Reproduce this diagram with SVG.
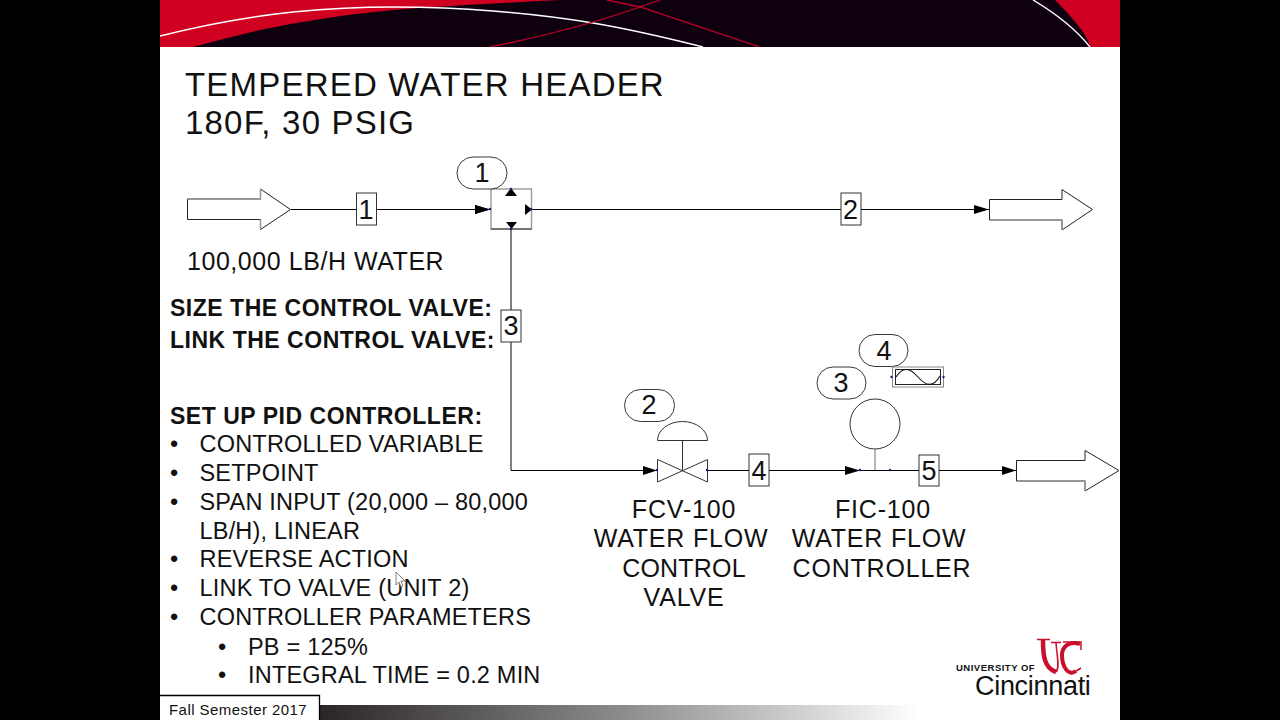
<svg xmlns="http://www.w3.org/2000/svg" width="1280" height="720" viewBox="0 0 1280 720">
<style>
text{font-family:"Liberation Sans",Arial,sans-serif;fill:#111}
.t{font-size:33px;letter-spacing:1.2px}
.b{font-size:23px;font-weight:bold;letter-spacing:.52px}
.l{font-size:23.5px;letter-spacing:.2px}
.c{font-size:25px;text-anchor:middle;letter-spacing:.8px}
.n{font-size:27px;text-anchor:middle}
.ln{fill:none;stroke:#000;stroke-width:1}
.g{fill:#fff;stroke:#222;stroke-width:1}
.gy{fill:none;stroke:#999;stroke-width:1.6}
.box{fill:#fff;stroke:#333;stroke-width:1}
.oval{fill:#fff;stroke:#222;stroke-width:.9}
.ar{fill:#000}
.dot{fill:#33107a}
.ucs{fill:none;stroke:#c8102e}
</style>
<defs>
<linearGradient id="fade" x1="0" x2="1" y1="0" y2="0"><stop offset="0" stop-color="#2a2627"/><stop offset=".5" stop-color="#8c8a8a"/><stop offset="1" stop-color="#fff"/></linearGradient>
<clipPath id="hd"><rect x="160" y="0" width="960" height="47"/></clipPath>
</defs>
<rect width="1280" height="720" fill="#000"/>
<rect x="160" y="0" width="960" height="720" fill="#fff"/>
<g id="banner" clip-path="url(#hd)">
<rect x="160" y="0" width="960" height="47" fill="#0f0010"/>
<path d="M160 0H560Q460 5 393 10Q327 16 260 30Q225 38 193 47H160Z" fill="#d00020"/>
<path d="M1055 0H1120V47H1090Q1088 33 1055 0Z" fill="#d00020"/>
<path d="M160 36Q227 19 293 12Q345 7 393 7Q445 7 493 11Q545 15 593 23Q640 31 703 47" fill="none" stroke="#fff" stroke-width="1.4"/>
<path d="M1033 0Q1070 22 1090 47" fill="none" stroke="#fff" stroke-width="1.4"/>
<path d="M490 47Q545 36 593 22Q620 14 640 7L660 0M607 0L640 7L760 47" fill="none" stroke="#c00028" stroke-width="1.3"/>
</g>
<text class="t" x="185" y="96">TEMPERED WATER HEADER</text>
<text class="t" x="185" y="134">180F, 30 PSIG</text>
<g id="connectors">
<path class="ln" d="M291 209.500H490M532 209.500H990M511 230V470.500H657M707 470.500H850M850 470.500H1016"/>
<path class="ar" d="M475 205l15 4.500-15 4.500zM974 205l15 4.500-15 4.500zM643 466l14 4.500-14 4.500zM845 466l15 4.500-15 4.500zM1002 466l14 4.500-14 4.500z"/>
</g>
<g id="feed-in"><path class="g" d="M187.500 199H260.500V189L290.500 209.500 260.500 229.500V219.500H187.500Z"/><path class="gy" d="M187.500 199H260.500V189"/><path class="gy" d="M260.500 219.500V229"/></g>
<g id="product-out"><path class="g" d="M989.500 199.500H1062V189.500L1092.500 209.500 1062 230V220H989.500Z"/><path class="gy" d="M990 220H1062V230"/></g>
<g id="valve-out"><path class="g" d="M1016.500 460.500H1085V450.500L1119 470.500 1085 491V481H1016.500Z"/><path class="gy" d="M1017 481H1085V491"/></g>
<g id="stream-1"><rect class="box" x="356.500" y="193" width="20" height="32"/><text class="n" x="366" y="219">1</text></g>
<g id="stream-2"><rect class="box" x="841" y="193" width="20" height="32"/><text class="n" x="850.500" y="219">2</text></g>
<g id="stream-3"><rect class="box" x="501" y="310" width="20" height="32"/><text class="n" x="511" y="335">3</text></g>
<g id="stream-4"><rect class="box" x="749" y="454" width="20" height="32"/><text class="n" x="759" y="480">4</text></g>
<g id="stream-5"><rect class="box" x="919" y="455" width="20" height="31"/><text class="n" x="929" y="480">5</text></g>
<g id="splitter">
<rect x="491" y="189" width="40.500" height="40" fill="#fff" stroke="#999" stroke-width="1.4"/>
<path d="M491 229H531.500" stroke="#333" stroke-width="1.200" fill="none"/>
<path class="ar" d="M505 196l6-8 6 8zM506 222h11l-5.500 7zM525 204l7 5.500-7 5.500zM475 205l15 4.500-15 4.500z"/>
<circle class="dot" cx="490" cy="209" r="1.300"/><circle class="dot" cx="511" cy="189" r="1.300"/><circle class="dot" cx="531" cy="209" r="1.300"/><circle class="dot" cx="511" cy="229" r="1.300"/>
</g>
<g id="tag-1"><rect class="oval" x="457" y="157" width="50" height="32" rx="16"/><text class="n" x="482" y="182">1</text></g>
<g id="valve">
<path fill="#fff" stroke="#333" stroke-width="1" d="M657.500 459.500 707.500 482V459.500L657.500 482Z"/>
<path fill="#fff" stroke="#333" stroke-width="1" d="M682.500 470.500V441M657.500 440.500A25 19 0 0 1 707.500 440.500Z"/>
<circle class="dot" cx="657" cy="470" r="1.200"/><circle class="dot" cx="707" cy="470" r="1.200"/>
</g>
<g id="tag-2"><rect class="oval" x="624.500" y="389.500" width="50" height="32" rx="16"/><text class="n" x="649" y="414">2</text></g>
<g id="controller">
<circle cx="875" cy="424" r="25" fill="#fff" stroke="#333" stroke-width="1"/>
<path d="M875 449V470" stroke="#888" stroke-width="1.200"/>
<circle class="dot" cx="860" cy="470" r="1.200"/><circle class="dot" cx="890" cy="470" r="1.200"/>
</g>
<g id="tag-3"><rect class="oval" x="817" y="367" width="49" height="32" rx="16"/><text class="n" x="841" y="392">3</text></g>
<g id="tag-4"><rect class="oval" x="859" y="334.500" width="49" height="32" rx="16"/><text class="n" x="884" y="360">4</text></g>
<g id="trend">
<rect x="892.500" y="367" width="51" height="20" fill="#fff" stroke="#888" stroke-width="1"/>
<rect x="895.500" y="369.500" width="45" height="15" fill="#fff" stroke="#222" stroke-width="1"/>
<path d="M896 377C903 366 910 368 918 377S933 388 940 376" fill="none" stroke="#111" stroke-width="1.100"/>
<circle class="dot" cx="891.500" cy="377" r="1.200"/><circle class="dot" cx="943.500" cy="377" r="1.200"/>
</g>
<text x="187" y="270" style="font-size:25px;letter-spacing:.55px">100,000 LB/H WATER</text>
<text class="b" x="170" y="316">SIZE THE CONTROL VALVE:</text>
<text class="b" x="170" y="348">LINK THE CONTROL VALVE:</text>
<text class="b" x="170" y="424">SET UP PID CONTROLLER:</text>
<g id="notes">
<text class="l" x="170" y="452">•</text><text class="l" x="199.500" y="452">CONTROLLED VARIABLE</text>
<text class="l" x="170" y="481">•</text><text class="l" x="199.500" y="481">SETPOINT</text>
<text class="l" x="170" y="510">•</text><text class="l" x="199.500" y="510">SPAN INPUT (20,000 – 80,000</text>
<text class="l" x="199.500" y="539">LB/H), LINEAR</text>
<text class="l" x="170" y="567">•</text><text class="l" x="199.500" y="567">REVERSE ACTION</text>
<text class="l" x="170" y="596">•</text><text class="l" x="199.500" y="596">LINK TO VALVE (UNIT 2)</text>
<text class="l" x="170" y="625">•</text><text class="l" x="199.500" y="625">CONTROLLER PARAMETERS</text>
<text class="l" x="218" y="655">•</text><text class="l" x="248" y="655">PB = 125%</text>
<text class="l" x="218" y="683">•</text><text class="l" x="248" y="683">INTEGRAL TIME = 0.2 MIN</text>
</g>
<g id="fcv-label">
<text class="c" x="684" y="518">FCV-100</text><text class="c" x="681" y="547">WATER FLOW</text><text class="c" x="684" y="577" style="letter-spacing:.2px">CONTROL</text><text class="c" x="684" y="606">VALVE</text>
</g>
<g id="fic-label">
<text class="c" x="883" y="518">FIC-100</text><text class="c" x="879" y="547">WATER FLOW</text><text class="c" x="882" y="577">CONTROLLER</text>
</g>
<path d="M396 572V585L399 582 401 587 403 586 401 581H405Z" fill="#fff" stroke="#666" stroke-width=".8"/>
<rect x="320" y="705" width="600" height="15" fill="url(#fade)"/>
<path d="M160 695.500H319.500V720" fill="none" stroke="#000" stroke-width="1.300"/>
<text x="169" y="715" style="font-size:15px;letter-spacing:.45px">Fall Semester 2017</text>
<g id="logo">
<text x="956" y="671" style="font-size:9.500px;font-weight:bold;letter-spacing:.5px">UNIVERSITY OF</text>
<text x="975" y="695" style="font-size:27px;letter-spacing:-.3px">Cincinnati</text>
<path class="ucs" stroke-width="4.500" d="M1043 640C1043 655 1044 668 1056 672"/>
<path class="ucs" stroke-width="1.500" d="M1037 639.500H1050M1056 672C1060 668 1057 656 1056 643M1051 642.500H1061"/>
<path class="ucs" stroke-width="4" d="M1080 644C1068 640 1062 648 1062 655C1062 666 1068 677 1076 671"/>
<path class="ucs" stroke-width="1.500" d="M1063 642H1081V650M1076 671L1081 668"/>
</g>
</svg>
